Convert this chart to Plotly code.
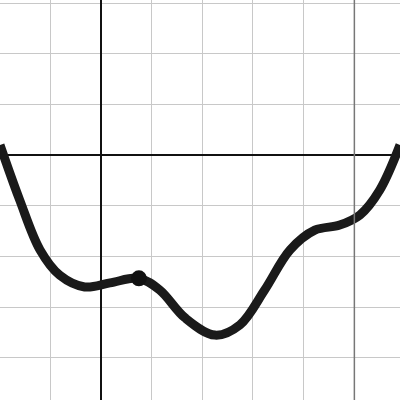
import plotly.graph_objects as go

xs = [-1.99, -1.6, -1.2, -0.81, -0.32, 0.18, 0.75, 1.16, 1.66, 2.25, 2.74, 3.23, 3.73, 4.22, 4.71, 5.11, 5.5, 5.9]
ys = [0.2, -0.89, -1.87, -2.37, -2.6, -2.52, -2.43, -2.66, -3.21, -3.55, -3.35, -2.66, -1.87, -1.48, -1.38, -1.18, -0.69, 0.2]
pt_x = [0.75]
pt_y = [-2.43]

fig = go.Figure()
fig.add_trace(go.Scatter(x=xs, y=ys, mode="lines", line=dict(color="#1a1a1a", width=9, shape="spline", smoothing=1.0)))
fig.add_trace(go.Scatter(x=pt_x, y=pt_y, mode="markers", marker=dict(color="#111", size=16)))
ax = dict(showgrid=True, gridcolor="#c8c8c8", gridwidth=1, dtick=1, zeroline=True,
          zerolinecolor="#111", zerolinewidth=2, showticklabels=False, fixedrange=True)
fig.update_layout(width=400, height=400, margin=dict(l=0, r=0, t=0, b=0),
                  plot_bgcolor="white", paper_bgcolor="white", showlegend=False,
                  xaxis=dict(range=[-1.99, 5.9], **ax),
                  yaxis=dict(range=[-4.83, 3.06], **ax))
fig.add_vline(x=5.0, line=dict(color="#777", width=1.5))
fig.write_html("out.html", config={"staticPlot": True},
               post_script="document.body.style.margin='0';document.body.style.overflow='hidden';")
